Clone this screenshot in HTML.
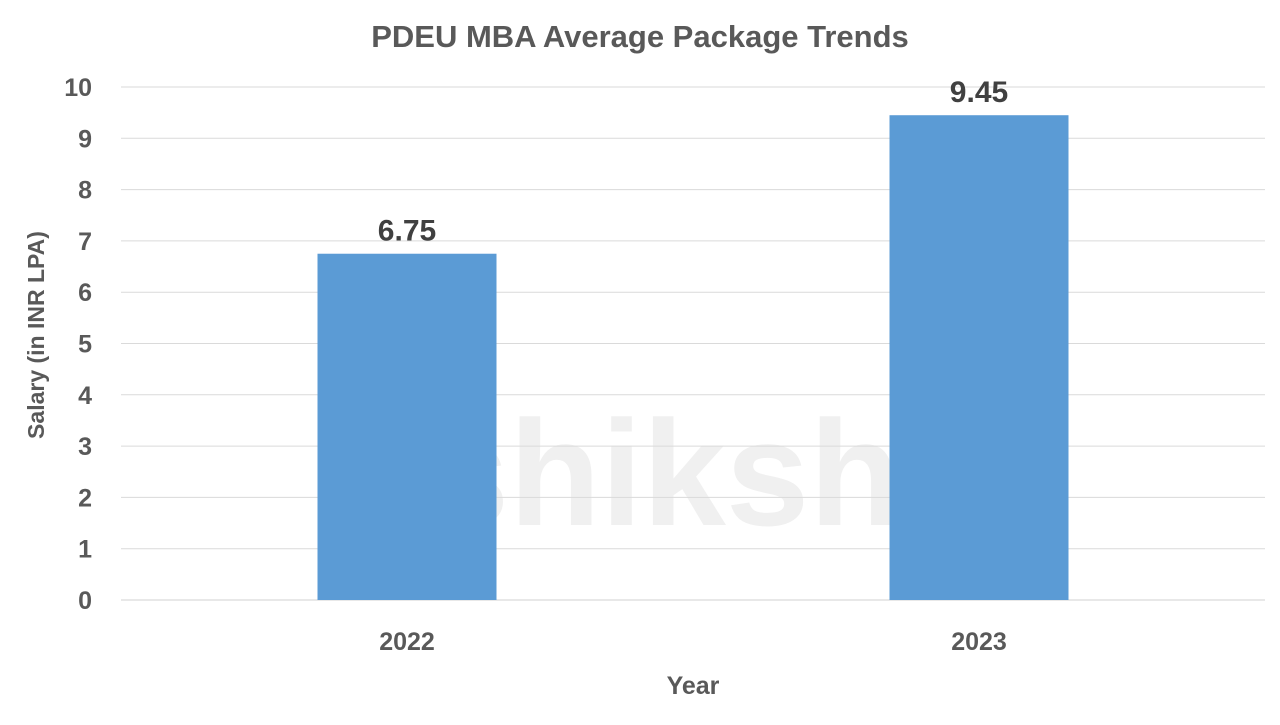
<!DOCTYPE html>
<html><head><meta charset="utf-8"><style>
body{margin:0;background:#fff;}
svg text{font-family:"Liberation Sans",sans-serif;font-weight:bold;}
</style></head><body>
<svg id="chart" width="1280" height="720">
<text x="640" y="47" text-anchor="middle" font-size="31" fill="#595959">PDEU MBA Average Package Trends</text>
<text x="705" y="525" text-anchor="middle" font-size="150" fill="#f0f0f0">shiksha</text>
<g id="grid"></g><g id="bars"></g>
<text x="693" y="694" text-anchor="middle" font-size="25" fill="#595959">Year</text>
<text transform="translate(44,335) rotate(-90)" text-anchor="middle" font-size="23" fill="#595959">Salary (in INR LPA)</text>
</svg>
<script>
const categories=["2022","2023"];
const values=[6.75,9.45];
const valueLabels=["6.75","9.45"];
const yTicks=[0,1,2,3,4,5,6,7,8,9,10];
const NS="http://www.w3.org/2000/svg";
const L=121,R=1265,T=87,B=600,yMax=10;
const y=v=>B-(v/yMax)*(B-T);
const band=(R-L)/categories.length;
const xc=i=>L+band*(i+0.5);
const bw=179;
function mk(t,a,p){const e=document.createElementNS(NS,t);for(const k in a)e.setAttribute(k,a[k]);p.appendChild(e);return e;}
const g=document.getElementById('grid');
yTicks.forEach(t=>{
 const l=mk('line',{x1:L,x2:R,y1:y(t),y2:y(t),stroke:t===0?'#d0d0d0':'#dadada','stroke-width':1},g);
 
 
 const tx=mk('text',{x:92,y:y(t)+9,'text-anchor':'end','font-size':25,fill:'#595959'},g);
 tx.textContent=t;
 
 
});
const bg=document.getElementById('bars');
categories.forEach((c,i)=>{
 const r=mk('rect',{x:xc(i)-bw/2,y:y(values[i]),width:bw,height:B-y(values[i]),fill:'#5b9bd5'},bg);
 
 
 const v=mk('text',{x:xc(i),y:y(values[i])-13,'text-anchor':'middle','font-size':30,fill:'#404040'},bg);
 v.textContent=valueLabels[i];
 
 
 const xl=mk('text',{x:xc(i),y:650,'text-anchor':'middle','font-size':25,fill:'#595959'},bg);
 xl.textContent=c;
 
 
});
</script>
</body></html>
